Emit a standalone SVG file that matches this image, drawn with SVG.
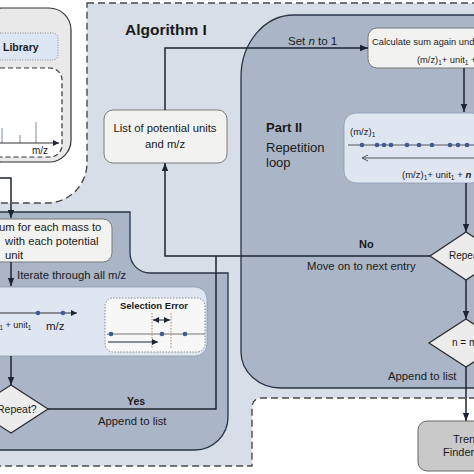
<svg xmlns="http://www.w3.org/2000/svg" width="474" height="474" viewBox="0 0 474 474">
<defs>
<style>
.t{font-family:"Liberation Sans",Arial,sans-serif;fill:#1a1a1a;font-size:11.3px}
.b{font-weight:bold}
.c{fill:none;stroke:#1c2533;stroke-width:1.5}
.dia{fill:#ececec;stroke:#2a2a2a;stroke-width:1.2}
.panel{fill:#aab5c7;stroke:#2b3445;stroke-width:1.3}
.box{fill:#f2f2f0;stroke:#7a7a7a;stroke-width:1}
.blue{fill:#dfe6f1;stroke:#8d9ab0;stroke-width:0.8}
.dot{fill:#3f5a94}
.sub{font-size:70%}
</style>
<marker id="ah" viewBox="0 0 10 10" refX="10" refY="5" markerWidth="8" markerHeight="8" markerUnits="userSpaceOnUse" orient="auto"><path d="M0,1 L10,5 L0,9 z" fill="#1c2533"/></marker>
<marker id="sh" viewBox="0 0 10 10" refX="10" refY="5" markerWidth="6" markerHeight="6" markerUnits="userSpaceOnUse" orient="auto-start-reverse"><path d="M0,0 L10,5 L0,10 z" fill="#1c2533"/></marker>
</defs>

<rect width="474" height="474" fill="#ffffff"/>

<!-- Algorithm I region -->
<g id="algorithm-region">
<path d="M87,3 H480 V398 H262 Q252,398 252,408 V466 H-5 V203 H47 A40,40 0 0 0 87,163 Z" fill="#d7dee8" stroke="#4a4a4a" stroke-width="1.4" stroke-dasharray="7 4"/>
<text class="t b" x="125" y="35" style="font-size:15.5px">Algorithm I</text>
</g>

<!-- Library panel -->
<g id="library-panel">
<rect x="-20" y="8" width="91" height="154" rx="22" fill="#e9e9e9" stroke="#333" stroke-width="1.2"/>
<rect x="-10" y="33" width="68" height="27" rx="5" fill="#dce6f5" stroke="#888" stroke-width="1" stroke-dasharray="1 1.5"/>
<text class="t b" x="3" y="51" style="font-size:10.5px">Library</text>
<rect x="-20" y="68" width="82" height="89" rx="12" fill="#ffffff" stroke="#333" stroke-width="1.2" stroke-dasharray="5 3"/>
<g stroke="#9aa6b8" stroke-width="1.3">
<line x1="2" y1="128" x2="2" y2="143"/>
<line x1="20" y1="135" x2="20" y2="143"/>
<line x1="36" y1="122" x2="36" y2="143"/>
</g>
<line x1="-2" y1="143" x2="59" y2="143" stroke="#333" stroke-width="1" marker-end="url(#sh)"/>
<text class="t" x="32" y="154" style="font-size:10px">m/z</text>
</g>

<!-- Part I panel -->
<g id="part1-panel">
<path class="panel" d="M-5,212 H130 V253 A20,20 0 0 0 150,273 H228 V417 A33,33 0 0 1 195,450 H-5 Z"/>
</g>

<!-- Part II panel -->
<g id="part2-panel">
<path class="panel" d="M480,15 H294 A53,62 0 0 0 241,77 V352 A40,36 0 0 0 281,388 H480 Z"/>
<text class="t b" x="266" y="132" style="font-size:13px">Part II</text>
<text class="t" x="266" y="152" style="font-size:13px">Repetition</text>
<text class="t" x="266" y="167" style="font-size:13px">loop</text>
</g>

<g id="sum-box">
<rect class="box" x="-15" y="219" width="127" height="43" rx="9"/>
<text class="t" x="-1" y="231">um for each mass to</text>
<text class="t" x="5" y="245">with each potential</text>
<text class="t" x="5" y="259">unit</text>
</g>

<g id="iterate-label">
<text class="t" x="17" y="279">Iterate through all m/z</text>
</g>

<g id="left-dot-box">
<rect class="blue" x="-15" y="287" width="222" height="69" rx="12"/>
<line x1="-2" y1="313" x2="77" y2="313" stroke="#333" stroke-width="1" marker-end="url(#sh)"/>
<circle class="dot" cx="38" cy="313" r="2.3"/>
<circle class="dot" cx="63" cy="313" r="2.3"/>
<text class="t" x="-21" y="328" style="font-size:9px">(m/z)<tspan class="sub" dy="2">1</tspan><tspan dy="-2"> + unit</tspan><tspan class="sub" dy="2">1</tspan></text>
<text class="t" x="46" y="330" style="font-size:11.5px">m/z</text>
</g>

<g id="selection-error">
<rect x="105" y="298" width="100" height="54" rx="8" fill="#f7f7f7" stroke="#888" stroke-width="1" stroke-dasharray="1.5 1.5"/>
<text class="t b" x="154" y="309" text-anchor="middle" style="font-size:9.5px">Selection Error</text>
<g stroke="#b08060" stroke-width="1" stroke-dasharray="1.5 1.5">
<line x1="152" y1="313" x2="152" y2="348"/>
<line x1="171" y1="313" x2="171" y2="348"/>
</g>
<line x1="153" y1="320" x2="170" y2="320" stroke="#1c2533" stroke-width="1" marker-start="url(#sh)" marker-end="url(#sh)"/>
<line x1="107" y1="334" x2="205" y2="334" stroke="#777" stroke-width="1"/>
<circle class="dot" cx="111" cy="334" r="2.3"/>
<circle class="dot" cx="162" cy="334" r="2.3"/>
<circle class="dot" cx="185" cy="334" r="2.3"/>
<line x1="108" y1="342" x2="158" y2="342" stroke="#1c2533" stroke-width="1" marker-end="url(#sh)"/>
</g>

<g id="repeat-left">
<polygon class="dia" points="11,385 48,409 11,433 -26,409"/>
<text class="t" x="-3" y="413" style="font-size:10.5px">Repeat?</text>
</g>

<g id="list-box">
<rect class="box" x="104" y="110" width="123" height="53" rx="9"/>
<text class="t" x="165" y="132" text-anchor="middle">List of potential units</text>
<text class="t" x="165" y="148" text-anchor="middle">and m/z</text>
</g>

<g id="calc-box">
<rect class="box" x="368" y="28" width="120" height="40" rx="9"/>
<text class="t" x="372" y="45" style="font-size:9.3px">Calculate sum again under</text>
<text class="t" x="417" y="63" style="font-size:9.3px">(m/z)<tspan class="sub" dy="2">1</tspan><tspan dy="-2">+  unit</tspan><tspan class="sub" dy="2">1</tspan><tspan dy="-2"> + </tspan><tspan style="font-weight:bold;font-style:italic">n</tspan></text>
</g>

<g id="right-dot-box">
<rect class="blue" x="344" y="113" width="140" height="70" rx="12"/>
<text class="t" x="350" y="135" style="font-size:9.5px">(m/z)<tspan class="sub" dy="2">1</tspan></text>
<line x1="348" y1="145" x2="480" y2="145" stroke="#555" stroke-width="1"/>
<g class="dot">
<circle cx="362" cy="145" r="2.3"/><circle cx="377" cy="145" r="2.3"/><circle cx="384" cy="145" r="2.3"/><circle cx="391" cy="145" r="2.3"/><circle cx="407" cy="145" r="2.3"/><circle cx="419" cy="145" r="2.3"/><circle cx="432" cy="145" r="2.3"/><circle cx="450" cy="145" r="2.3"/><circle cx="458" cy="145" r="2.3"/><circle cx="467" cy="145" r="2.3"/>
</g>
<line x1="362" y1="158" x2="480" y2="158" stroke="#555" stroke-width="1"/>
<polyline points="368,155 362,158 368,161" fill="none" stroke="#555" stroke-width="1"/>
<text class="t" x="402" y="178" style="font-size:9.5px">(m/z)<tspan class="sub" dy="2">1</tspan><tspan dy="-2">+  unit</tspan><tspan class="sub" dy="2">1</tspan><tspan dy="-2"> + </tspan><tspan style="font-weight:bold;font-style:italic">n</tspan></text>
</g>

<g id="repeat-right">
<polygon class="dia" points="466,232 502,256 466,280 430,256"/>
<text class="t" x="449" y="259" style="font-size:10px">Repeat?</text>
</g>

<g id="n-eq-m">
<polygon class="dia" points="466,319 503,343 466,367 429,343"/>
<text class="t" x="452" y="346" style="font-size:10px">n = m</text>
</g>

<g id="trend-finder">
<rect x="418" y="421" width="80" height="50" rx="9" fill="#c9c9c9" stroke="#666" stroke-width="1"/>
<text class="t" x="453" y="443" style="font-size:11px">Trend</text>
<text class="t" x="443" y="456" style="font-size:11px">Finder</text>
</g>

<!-- Connectors -->
<g id="connectors">
<path class="c" d="M-2,178 H11 V218" marker-end="url(#ah)"/>
<path class="c" d="M11,262 V286" marker-end="url(#ah)"/>
<path class="c" d="M11,356 V385" marker-end="url(#ah)"/>
<path class="c" d="M48,409 H216 V256"/>
<path class="c" d="M430,256 H165 V163" marker-end="url(#ah)"/>
<path class="c" d="M165,110 V48 H368" marker-end="url(#ah)"/>
<path class="c" d="M464,68 V112" marker-end="url(#ah)"/>
<path class="c" d="M466,183 V232" marker-end="url(#ah)"/>
<path class="c" d="M466,280 V319" marker-end="url(#ah)"/>
<path class="c" d="M466,367 V421" marker-end="url(#ah)"/>
<text class="t" x="288" y="45" style="font-size:11.5px">Set <tspan font-style="italic">n</tspan> to 1</text>
<text class="t b" x="359" y="248" style="font-size:11px">No</text>
<text class="t" x="307" y="270">Move on to next entry</text>
<text class="t b" x="127" y="405" style="font-size:10.5px">Yes</text>
<text class="t" x="98" y="425">Append to list</text>
<text class="t" x="388" y="380">Append to list</text>
</g>
</svg>
